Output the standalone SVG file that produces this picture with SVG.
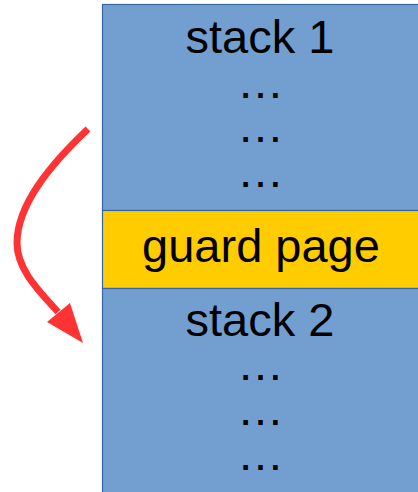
<svg xmlns="http://www.w3.org/2000/svg" width="418" height="492" viewBox="0 0 418 492">
<style>
.t{font-family:"Liberation Sans",Arial,sans-serif;font-size:47px;fill:#000;text-anchor:middle}
.blk{stroke:#3465a4;stroke-width:1.2}
</style>
<rect width="418" height="492" fill="#fff"/>
<g id="stack1">
<rect class="blk" x="102.5" y="4.5" width="330" height="206" fill="#729fcf"/>
<text class="t" x="260" y="53">stack 1</text>
<text class="t" x="260.5" y="98">…</text>
<text class="t" x="260.5" y="142">…</text>
<text class="t" x="260.5" y="187">…</text>
</g>
<g id="guard">
<rect class="blk" x="102.5" y="210.5" width="330" height="78" fill="#ffcc00"/>
<text class="t" x="261" y="262">guard page</text>
</g>
<g id="stack2">
<rect class="blk" x="102.5" y="288.5" width="330" height="220" fill="#729fcf"/>
<text class="t" x="260" y="336">stack 2</text>
<text class="t" x="260.5" y="380">…</text>
<text class="t" x="260.5" y="425">…</text>
<text class="t" x="260.5" y="470">…</text>
</g>
<g id="connectors">
<path d="M88,129 C50,165 17,205 17,243 C17,270 40,292 58,312" fill="none" stroke="#ff3333" stroke-width="7"/>
<polygon points="83,343 47,322 70,303" fill="#ff3333"/>
</g>
</svg>
